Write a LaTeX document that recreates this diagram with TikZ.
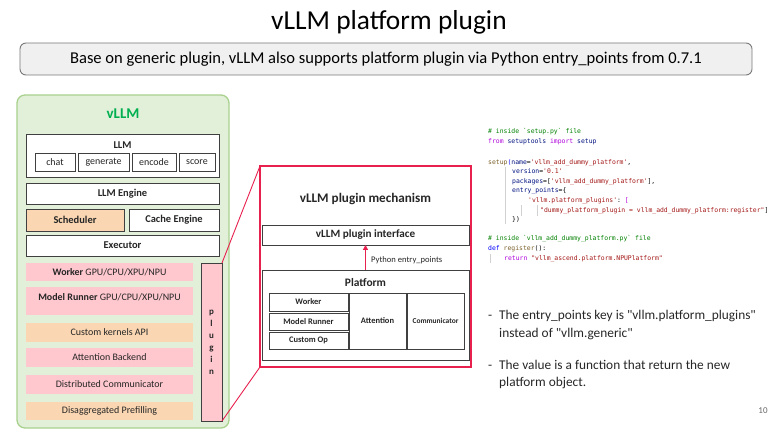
\documentclass[tikz,border=0pt]{standalone}
\usepackage{fontspec}
\setmainfont{Carlito}[Ligatures=TeXOff]
\setmonofont{DejaVu Sans Mono}
\usetikzlibrary{arrows.meta}
\definecolor{txt}{RGB}{38,38,38}
\definecolor{grn}{RGB}{0,176,80}
\definecolor{gfill}{RGB}{226,240,217}
\definecolor{gline}{RGB}{169,209,142}
\definecolor{pinkf}{RGB}{255,199,206}
\definecolor{peach}{RGB}{250,215,178}
\definecolor{crim}{RGB}{232,32,78}
\definecolor{bord}{RGB}{64,64,64}
\definecolor{subf}{RGB}{240,240,240}
\definecolor{subb}{RGB}{120,120,120}
\definecolor{ccom}{RGB}{0,128,0}
\definecolor{ckey}{RGB}{175,0,219}
\definecolor{cfun}{RGB}{121,94,38}
\definecolor{cvar}{RGB}{0,16,128}
\definecolor{cstr}{RGB}{163,21,21}
\definecolor{cdef}{RGB}{0,0,255}
\newcommand{\fs}[1]{\fontsize{#1}{#1}\selectfont}
\tikzset{
  box/.style={draw=bord, line width=0.9bp, fill=white, inner sep=0pt, outer sep=0pt, text=txt},
  pinkbox/.style={fill=pinkf, inner sep=0pt, outer sep=0pt, text=txt, font=\fs{10}},
  peachbox/.style={fill=peach, inner sep=0pt, outer sep=0pt, text=txt, font=\fs{10}},
  codeline/.style={anchor=west, inner sep=0pt, font=\fs{6.45}\ttfamily, text=black, text height=5bp, text depth=1.5bp},
  bullet/.style={anchor=west, inner sep=0pt, font=\fs{13.4}, text=txt, text height=9.5bp, text depth=3bp},
  redln/.style={draw=crim, line width=0.9bp},
  guide/.style={draw=black!18, line width=0.5bp}
}
\begin{document}
\begin{tikzpicture}[x=1bp,y=-1bp]
\useasboundingbox (0,0) rectangle (778,433);
% title
\node[font=\fs{27.5}, text=black] (title) at (389,22) {vLLM platform plugin};
\node[draw=subb, fill=subf, rounded corners=6bp, line width=0.9bp, minimum width=732bp, minimum height=32bp, inner sep=0pt, font=\fs{16.6}, text=black] (subtitle) at (386,59) {Base on generic plugin, vLLM also supports platform plugin via Python entry\_points from 0.7.1};
% vLLM green box
\node[draw=gline, fill=gfill, line width=1.3bp, rounded corners=8bp, minimum width=212bp, minimum height=333bp, inner sep=0pt] (vllm) at (123,261.5) {};
\node[font=\fs{15}\bfseries, text=grn] (vllmt) at (123,114) {vLLM};
\node[box, minimum width=193bp, minimum height=43bp] (llm) at (122.5,155.5) {};
\node[font=\fs{10.5}\bfseries, text=txt] (llmt) at (122.5,145) {LLM};
\node[box, minimum width=40bp, minimum height=18bp, font=\fs{10}] (chat) at (55,162) {chat};
\node[box, minimum width=51bp, minimum height=18bp, font=\fs{10}] (gen) at (103.5,162) {generate};
\node[box, minimum width=44bp, minimum height=18bp, font=\fs{10}] (enc) at (154,162) {encode};
\node[box, minimum width=36bp, minimum height=18bp, font=\fs{10}] (score) at (197,162) {score};
\node[box, minimum width=193bp, minimum height=21bp, font=\fs{10.5}\bfseries] (engine) at (122.5,193.5) {LLM Engine};
\node[box, fill=peach, minimum width=98bp, minimum height=22bp, font=\fs{10.5}\bfseries] (sched) at (75,220) {Scheduler};
\node[box, minimum width=90bp, minimum height=22bp, font=\fs{10.5}\bfseries] (cache) at (174,220) {Cache Engine};
\node[box, minimum width=193bp, minimum height=21bp, font=\fs{10.5}\bfseries] (exec) at (122.5,245.5) {Executor};
\node[pinkbox, minimum width=167bp, minimum height=18bp] (worker) at (109.5,272) {\textbf{Worker} GPU/CPU/XPU/NPU};
\node[pinkbox, minimum width=167bp, minimum height=28bp] (mrunner) at (109.5,301) {};
\node[font=\fs{10}, text=txt, inner sep=0pt] (mrunnert) at (109.5,297) {\textbf{Model Runner} GPU/CPU/XPU/NPU};
\node[peachbox, minimum width=167bp, minimum height=19bp] (kernels) at (109.5,332.5) {Custom kernels API};
\node[pinkbox, minimum width=167bp, minimum height=19bp] (attnb) at (109.5,357.5) {Attention Backend};
\node[pinkbox, minimum width=167bp, minimum height=19bp] (dist) at (109.5,384.5) {Distributed Communicator};
\node[peachbox, minimum width=167bp, minimum height=18bp] (disagg) at (109.5,411) {Disaggregated Prefilling};
\node[box, fill=pinkf, minimum width=21bp, minimum height=158bp, align=center, font=\fontsize{9}{12}\selectfont\bfseries] (plugin) at (211.5,342) {p\\l\\u\\g\\i\\n};
% red mechanism box
\node[draw=crim, line width=1.1bp, minimum width=211bp, minimum height=201bp, inner sep=0pt, outer sep=0pt] (redbox) at (365.5,266.5) {};
\draw[redln] (plugin.north east) -- (redbox.north west);
\draw[redln] (plugin.south east) -- (redbox.south west);
\node[font=\fs{13.2}\bfseries, text=txt] (mech) at (365.5,199) {vLLM plugin mechanism};
\node[box, minimum width=207bp, minimum height=20bp, font=\fs{11.2}\bfseries] (iface) at (365.5,235) {vLLM plugin interface};
\node[box, minimum width=207bp, minimum height=90bp] (platform) at (365.5,315) {};
\node[font=\fs{11.5}\bfseries, text=txt] (platt) at (365.5,283) {Platform};
\node[box, minimum width=79bp, minimum height=18bp, font=\fs{8.5}\bfseries] (pworker) at (308.5,302) {Worker};
\node[box, minimum width=79bp, minimum height=17bp, font=\fs{8.5}\bfseries] (pmr) at (308.5,321.5) {Model Runner};
\node[box, minimum width=79bp, minimum height=17bp, font=\fs{8.5}\bfseries] (pcop) at (308.5,340.5) {Custom Op};
\node[box, minimum width=57bp, minimum height=56bp, font=\fs{8.5}\bfseries] (pattn) at (377.5,321) {Attention};
\node[box, minimum width=57bp, minimum height=56bp, font=\fs{7.5}\bfseries] (pcomm) at (435.5,321) {Communicator};
\draw[draw=crim, line width=1.3bp, -{Triangle[length=5bp,width=5bp]}] (platform.north) -- (iface.south);
\node[anchor=west, inner sep=0pt, font=\fs{8.6}, text=txt] (pyep) at (371,260) {Python entry\_points};
% code
\draw[guide] (505,167) -- (505,224);
\draw[guide] (521,205) -- (521,216);
\draw[guide] (537,205) -- (537,216);
\draw[guide] (490,254) -- (490,263);
\node[codeline] (c1) at (488,132) {\textcolor{ccom}{\# inside `setup.py` file}};
\node[codeline] (c2) at (488,142) {\textcolor{ckey}{from} \textcolor{cvar}{setuptools} \textcolor{ckey}{import} \textcolor{cvar}{setup}};
\node[codeline] (c3) at (488,163) {\textcolor{cfun}{setup}\textcolor{cdef}{(}\textcolor{cvar}{name}=\textcolor{cstr}{'vllm\_add\_dummy\_platform'},};
\node[codeline] (c4) at (512,172) {\textcolor{cvar}{version}=\textcolor{cstr}{'0.1'}};
\node[codeline] (c5) at (512,182) {\textcolor{cvar}{packages}=[\textcolor{cstr}{'vllm\_add\_dummy\_platform'}],};
\node[codeline] (c6) at (512,191) {\textcolor{cvar}{entry\_points}=\{};
\node[codeline] (c7) at (528,201) {\textcolor{cstr}{'vllm.platform\_plugins'}: \textcolor{ckey}{[}};
\node[codeline] (c8) at (540,211) {\textcolor{cstr}{"dummy\_platform\_plugin = vllm\_add\_dummy\_platform:register"}]};
\node[codeline] (c9) at (512,220) {\})};
\node[codeline] (c10) at (488,239) {\textcolor{ccom}{\# inside `vllm\_add\_dummy\_platform.py` file}};
\node[codeline] (c11) at (488,249) {\textcolor{cdef}{def} \textcolor{cfun}{register}():};
\node[codeline] (c12) at (504,259) {\textcolor{ckey}{return} \textcolor{cstr}{"vllm\_ascend.platform.NPUPlatform"}};
% bullets
\node[bullet] (d1) at (488,316) {-};
\node[bullet] (b1a) at (499,316) {The entry\_points key is "vllm.platform\_plugins"};
\node[bullet] (b1b) at (499,334) {instead of "vllm.generic"};
\node[bullet] (d2) at (488,366) {-};
\node[bullet] (b2a) at (499,366) {The value is a function that return the new};
\node[bullet] (b2b) at (499,383) {platform object.};
\node[font=\fs{9}, text=black!60, inner sep=0pt] (pagenum) at (763,411) {10};
\end{tikzpicture}
\end{document}
